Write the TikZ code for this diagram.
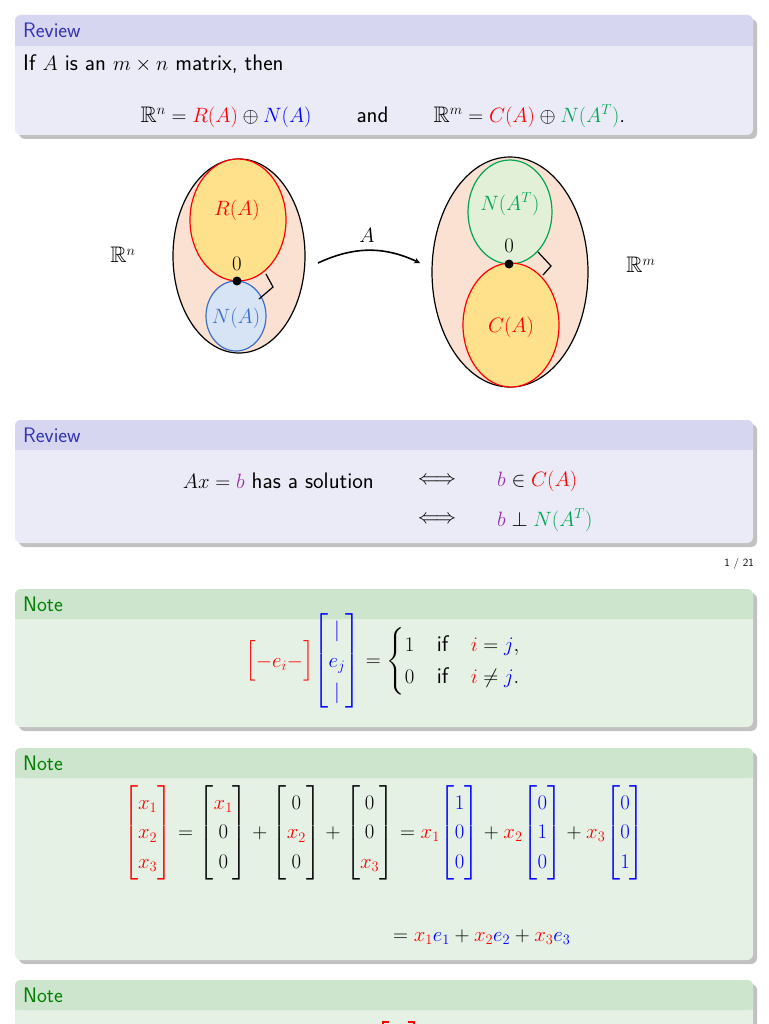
\documentclass[tikz,border=0pt]{standalone}
\usepackage{amsmath,amssymb}
\usepackage{fontspec}
\setmainfont{Latin Modern Sans}
\usetikzlibrary{shapes.geometric,shadows,calc}
\definecolor{tblue}{RGB}{51,51,179}
\definecolor{tbg}{RGB}{214,214,240}
\definecolor{bbg}{RGB}{235,235,247}
\definecolor{tgreen}{RGB}{0,127,0}
\definecolor{gtbg}{RGB}{205,229,205}
\definecolor{gbbg}{RGB}{229,241,229}
\definecolor{mgreen}{RGB}{0,166,80}
\definecolor{purp}{RGB}{153,51,170}
\definecolor{peach}{RGB}{250,225,210}
\definecolor{yell}{RGB}{255,225,140}
\definecolor{lblue}{RGB}{215,228,245}
\definecolor{lgreen}{RGB}{225,240,215}
\definecolor{nblue}{RGB}{60,110,200}
\newcommand{\R}[1]{\textcolor{red}{#1}}
\newcommand{\B}[1]{\textcolor{blue}{#1}}
\newcommand{\G}[1]{\textcolor{mgreen}{#1}}
\newcommand{\Pp}[1]{\textcolor{purp}{#1}}
\tikzset{
 txt/.style={font=\fontsize{22.5}{27}\selectfont, inner sep=0pt},
 ttl/.style={font=\fontsize{21}{24}\selectfont, inner sep=0pt, anchor=west},
 lw/.style={line width=1.2pt}
}
\newcommand{\blockbox}[5]{%
 \fill[black!40,opacity=0.6,rounded corners=6pt] (19,#1+4) rectangle (757,#3+4);
 \fill[#5,rounded corners=6pt] (15,#1) rectangle (753,#3);
 \fill[#4,rounded corners=6pt] (15,#1) rectangle (753,#2);
 \fill[#4] (15,#2-8) rectangle (753,#2);
}
\begin{document}
\begin{tikzpicture}[x=1pt,y=-1pt]
\useasboundingbox (0,0) rectangle (768,1024);
\fill[white] (0,0) rectangle (768,1024);
% Box 1
\blockbox{15}{46}{135}{tbg}{bbg}
\node[ttl,text=tblue] (t1) at (23,30) {Review};
\node[txt,anchor=west] (l1) at (23,64) {If $A$ is an $m\times n$ matrix, then};
\node[txt] (e1) at (383,116) {$\mathbb{R}^n=\R{R(A)}\oplus\B{N(A)}$\qquad and\qquad $\mathbb{R}^m=\R{C(A)}\oplus\G{N(A^T)}$.};
% Diagram left
\draw[lw,fill=peach] (239,256) ellipse [x radius=66, y radius=97];
\draw[lw,red,fill=yell] (238,220) ellipse [x radius=48, y radius=61];
\draw[lw,nblue,fill=lblue] (236,316) ellipse [x radius=30, y radius=35];
\node[txt,text=red] (ra) at (237,210) {$R(A)$};
\node[txt,text=nblue] (na) at (236,318) {$N(A)$};
\draw[lw] (259,299) -- (273,287) -- (266,274);
\fill (237,281) circle (4.5);
\node[txt] (z1) at (237,264) {$0$};
\node[txt] (rn) at (123,255) {$\mathbb{R}^n$};
\coordinate (as) at (318,263);
\coordinate (ae) at (420,263);
\draw[-stealth,line width=1.6pt] (as) to[bend left=25] (ae);
\node[txt] (alab) at (367,235) {$A$};
% Diagram right
\draw[lw,fill=peach] (510,272) ellipse [x radius=78, y radius=115];
\draw[lw,mgreen,fill=lgreen] (510,212) ellipse [x radius=42, y radius=52];
\draw[lw,red,fill=yell] (511,325) ellipse [x radius=48, y radius=62];
\node[txt,text=mgreen] (nat) at (510,204) {$N(A^T)$};
\node[txt,text=red] (ca) at (511,327) {$C(A)$};
\draw[lw] (538,252) -- (551,266) -- (543,275);
\fill (509,264) circle (4.5);
\node[txt] (z2) at (509,246) {$0$};
\node[txt] (rm) at (641,265) {$\mathbb{R}^m$};
% Box 2
\blockbox{420}{450}{543}{tbg}{bbg}
\node[ttl,text=tblue] (t2) at (23,435) {Review};
\node[txt,anchor=east] (r1a) at (374,481) {$Ax=\Pp{b}$ has a solution};
\node[txt] (r1b) at (437,481) {$\iff$};
\node[txt,anchor=west] (r1c) at (497,481) {$\Pp{b}\in\R{C(A)}$};
\node[txt] (r2b) at (437,520) {$\iff$};
\node[txt,anchor=west] (r2c) at (497,520) {$\Pp{b}\perp\G{N(A^T)}$};
\node[font=\fontsize{11}{12}\selectfont,inner sep=0pt,anchor=east] (pg) at (754,564) {1 / 21};
% Box 3
\blockbox{589}{619}{727}{gtbg}{gbbg}
\node[ttl,text=tgreen] (t3) at (23,604) {Note};
\node[txt] (e3) at (383,661) {\renewcommand{\arraystretch}{1.15}$\R{\begin{bmatrix}-e_i-\end{bmatrix}}
 \B{\begin{bmatrix}|\\ e_j\\ |\end{bmatrix}}
 =\begin{cases}1 & \text{if}\quad \R{i}=\B{j},\\ 0 & \text{if}\quad \R{i}\neq\B{j}.\end{cases}$};
% Box 4
\blockbox{748}{778}{960}{gtbg}{gbbg}
\node[ttl,text=tgreen] (t4) at (23,763) {Note};
\node[txt] (e4) at (384,833) {\renewcommand{\arraystretch}{1.1}$\R{\begin{bmatrix}x_1\\x_2\\x_3\end{bmatrix}}
 =\begin{bmatrix}\R{x_1}\\0\\0\end{bmatrix}+\begin{bmatrix}0\\\R{x_2}\\0\end{bmatrix}+\begin{bmatrix}0\\0\\\R{x_3}\end{bmatrix}
 =\R{x_1}\B{\begin{bmatrix}1\\0\\0\end{bmatrix}}+\R{x_2}\B{\begin{bmatrix}0\\1\\0\end{bmatrix}}+\R{x_3}\B{\begin{bmatrix}0\\0\\1\end{bmatrix}}$};
\node[txt,anchor=west] (e5) at (393,937) {$=\R{x_1}\B{e_1}+\R{x_2}\B{e_2}+\R{x_3}\B{e_3}$};
% Box 5
\blockbox{980}{1010}{1040}{gtbg}{gbbg}
\node[ttl,text=tgreen] (t5) at (23,995) {Note};
\draw[red,line width=1.2pt] (383,1030) -- (383,1022) -- (389,1022);
\draw[red,line width=1.2pt] (408,1022) -- (414,1022) -- (414,1030);
\end{tikzpicture}
\end{document}
